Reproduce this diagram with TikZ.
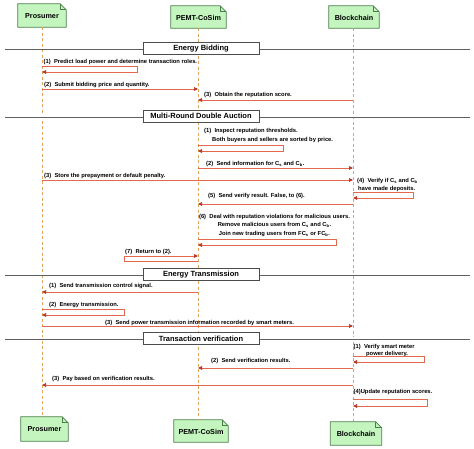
\documentclass[tikz,border=0pt]{standalone}
\usepackage{fontspec}
\setmainfont{Liberation Sans}
\usetikzlibrary{arrows.meta}
\definecolor{notefill}{HTML}{C4F5BF}
\definecolor{noteborder}{HTML}{4A7F4A}
\definecolor{lifecol}{HTML}{E0A45A}
\definecolor{msgcol}{HTML}{E2684E}
\definecolor{tipcol}{HTML}{B8321F}
\tikzset{
  lifeline/.style={draw=lifecol, dash pattern=on 3pt off 2.5pt, line width=0.6pt},
  msg/.style={draw=msgcol, line width=0.65pt, -{Triangle[length=4pt,width=3.6pt,color=tipcol]}},
  lbl/.style={font=\fontsize{5.8}{7}\selectfont\bfseries, inner sep=0pt, anchor=base west},
  lblc/.style={font=\fontsize{5.8}{8.5}\selectfont\bfseries, inner sep=0pt, align=center, anchor=north},
  sectline/.style={draw=gray!75!black, double=white, double distance=1.7pt, line width=0.65pt},
  sectbox/.style={draw=gray!60!black, fill=white, minimum width=116pt, minimum height=12pt, inner sep=0pt, text depth=0pt, font=\fontsize{7.5}{8}\selectfont\bfseries, line width=0.6pt},
  notebox/.style={draw=noteborder, fill=notefill, line width=0.7pt, line join=miter},
  actor/.style={inner sep=0pt, text depth=0pt, font=\fontsize{7.2}{8}\selectfont\bfseries, text=black},
}
\newcommand\umlnote[5]{%
  \node[minimum width=#3, minimum height=#4, inner sep=0pt] (#1) at (#2) {};
  \draw[notebox] (#1.north west) -- ([xshift=-6pt]#1.north east) -- ([yshift=-6pt]#1.north east) -- (#1.south east) -- (#1.south west) -- cycle;
  \draw[notebox, fill=none] ([xshift=-6pt]#1.north east) |- ([yshift=-6pt]#1.north east);
  \node[actor] (#1-t) at ([yshift=-0.5pt]#1.center) {#5};
}
\newcommand\Cs{C\textsubscript{s}}
\newcommand\Cb{C\textsubscript{b}}
\begin{document}
\begin{tikzpicture}[x=1pt,y=-1pt]
\fill[white] (0,0) rectangle (474,448);
\useasboundingbox (0,0) rectangle (474,448);
\def\xa{42}\def\xb{198}\def\xc{353}
% participants
\umlnote{P1t}{42,15.5}{48pt}{23pt}{Prosumer}
\umlnote{P2t}{198.5,17}{55pt}{22pt}{PEMT-CoSim}
\umlnote{P3t}{354,17}{50pt}{22pt}{Blockchain}
\umlnote{P1b}{44.5,429}{47pt}{24pt}{Prosumer}
\umlnote{P2b}{201,431}{54pt}{22pt}{PEMT-CoSim}
\umlnote{P3b}{356,433.5}{51pt}{23pt}{Blockchain}
% lifelines
\draw[lifeline] (P1t.south) -- (P1t.south |- P1b.north);
\draw[lifeline] (\xb,28) coordinate (L2a) -- (\xb,419) coordinate (L2b);
\draw[lifeline] (\xc,28) coordinate (L3a) -- (\xc,421) coordinate (L3b);
% sections
\coordinate (S1l) at (5,48); \coordinate (S1r) at (470,48);
\draw[sectline] (S1l) -- (S1r);
\node[sectbox] (S1) at (201,48) {Energy Bidding};
\coordinate (S2l) at (5,116); \coordinate (S2r) at (470,116);
\draw[sectline] (S2l) -- (S2r);
\node[sectbox] (S2) at (201,116) {Multi-Round Double Auction};
\coordinate (S3l) at (5,274); \coordinate (S3r) at (470,274);
\draw[sectline] (S3l) -- (S3r);
\node[sectbox] (S3) at (201,274) {Energy Transmission};
\coordinate (S4l) at (5,338); \coordinate (S4r) at (470,338);
\draw[sectline] (S4l) -- (S4r);
\node[sectbox] (S4) at (201,338.5) {Transaction verification};
% Energy bidding
\node[lbl] (eb1l) at (43.5,63) {(1)\ \ Predict load power and determine transaction roles.};
\coordinate (eb1a) at (\xa,66); \coordinate (eb1b) at (\xa,72);
\draw[msg] (eb1a) -- ++(95,0) |- (eb1b);
\node[lbl] (eb2l) at (44,86) {(2)\ \ Submit bidding price and quantity.};
\coordinate (eb2a) at (\xa,89); \coordinate (eb2b) at (\xb,89);
\draw[msg] (eb2a) -- (eb2b);
\node[lbl] (eb3l) at (204,96) {(3)\ \ Obtain the reputation score.};
\coordinate (eb3a) at (\xc,100); \coordinate (eb3b) at (\xb,100);
\draw[msg] (eb3a) -- (eb3b);
% Multi-round double auction
\node[lbl] (mr1l) at (204,132) {(1)\ \ Inspect reputation thresholds.};
\node[lbl] (mr1m) at (212,141) {Both buyers and sellers are sorted by price.};
\coordinate (mr1a) at (\xb,145); \coordinate (mr1b) at (\xb,151);
\draw[msg] (mr1a) -- (283,145) |- (mr1b);
\node[lbl] (mr2l) at (206,165) {(2)\ \ Send information for \Cs{} and \Cb.};
\coordinate (mr2a) at (\xb,168); \coordinate (mr2b) at (\xc,168);
\draw[msg] (mr2a) -- (mr2b);
\node[lbl] (mr3l) at (44,177.6) {(3)\ \ Store the prepayment or default penalty.};
\coordinate (mr3a) at (\xa,180); \coordinate (mr3b) at (\xc,180);
\draw[msg] (mr3a) -- (mr3b);
\node[lbl] (mr4l) at (357,182) {(4)\ \ Verify if \Cs{} and \Cb};
\node[lbl] (mr4m) at (358,190) {have made deposits.};
\coordinate (mr4a) at (\xc,192); \coordinate (mr4b) at (\xc,198);
\draw[msg] (mr4a) -- (413,192) |- (mr4b);
\node[lbl] (mr5l) at (208,197) {(5)\ \ Send verify result. False, to (6).};
\coordinate (mr5a) at (\xc,204); \coordinate (mr5b) at (\xb,204);
\draw[msg] (mr5a) -- (mr5b);
\node[lblc] (mr6l) at (274.5,213.6) {(6)\ \ Deal with reputation violations for malicious users.\\Remove malicious users from \Cs{} and \Cb.\\Join new trading users from F\Cs{} or F\Cb.};
\coordinate (mr6a) at (\xb,239); \coordinate (mr6b) at (\xb,245);
\draw[msg] (mr6a) -- (336,239) |- (mr6b);
\node[lbl] (mr7l) at (125,253) {(7)\ \ Return to (2).};
\coordinate (mr7a) at (\xb,261); \coordinate (mr7b) at (\xb,256);
\draw[msg] (mr7a) -- (124,261) |- (mr7b);
% Energy transmission
\node[lbl] (et1l) at (49,287) {(1)\ \ Send transmission control signal.};
\coordinate (et1a) at (\xb,292); \coordinate (et1b) at (\xa,292);
\draw[msg] (et1a) -- (et1b);
\node[lbl] (et2l) at (49,306) {(2)\ \ Energy transmission.};
\coordinate (et2a) at (\xa,309); \coordinate (et2b) at (\xa,315);
\draw[msg] (et2a) -- (124,309) |- (et2b);
\node[lbl] (et3l) at (105,324.6) {(3)\ \ Send power transmission information recorded by smart meters.};
\coordinate (et3a) at (\xa,326); \coordinate (et3b) at (\xc,326);
\draw[msg] (et3a) -- (et3b);
% Transaction verification
\node[lbl] (tv1l) at (353.5,348) {(1)\ \ Verify smart meter};
\node[lbl] (tv1m) at (366,355.6) {power delivery.};
\coordinate (tv1a) at (\xc,356.5); \coordinate (tv1b) at (\xc,362);
\draw[msg] (tv1a) -- (424,356.5) |- (tv1b);
\node[lbl] (tv2l) at (211,362) {(2)\ \ Send verification results.};
\coordinate (tv2a) at (\xc,368); \coordinate (tv2b) at (\xb,368);
\draw[msg] (tv2a) -- (tv2b);
\node[lbl] (tv3l) at (52,380) {(3)\ \ Pay based on verification results.};
\coordinate (tv3a) at (\xc,385); \coordinate (tv3b) at (\xa,385);
\draw[msg] (tv3a) -- (tv3b);
\node[lbl] (tv4l) at (353.5,393) {(4)Update reputation scores.};
\coordinate (tv4a) at (\xc,399); \coordinate (tv4b) at (\xc,406);
\draw[msg] (tv4a) -- (427,399) |- (tv4b);
\end{tikzpicture}
\end{document}
